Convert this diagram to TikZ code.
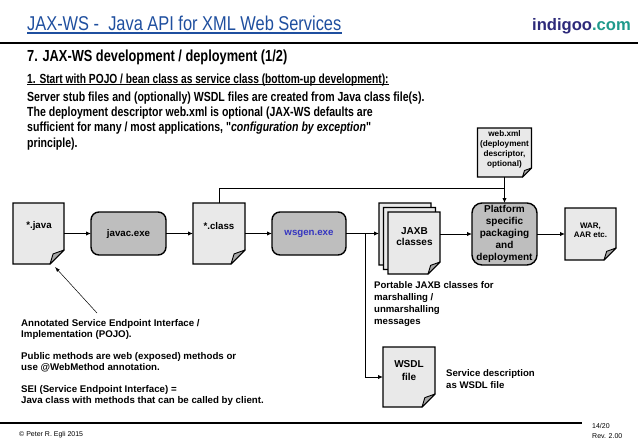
\documentclass[tikz,border=0pt]{standalone}
\usepackage{fontspec}
\setmainfont{Liberation Sans}
\newfontfamily\condfont{Liberation Sans}[FakeStretch=0.80]
\newfontfamily\subfont{Liberation Sans}[FakeStretch=0.775]
\newfontfamily\titlefont{Liberation Sans}[FakeStretch=0.82]
\usetikzlibrary{arrows.meta}
\definecolor{docfill}{HTML}{E9E9E9}
\definecolor{boxfill}{HTML}{BEBEBE}
\definecolor{flapfill}{HTML}{A8A8A8}
\definecolor{titleblue}{HTML}{1F4F9F}
\definecolor{wsblue}{HTML}{3535C0}
\definecolor{logoindigo}{HTML}{2D2A7A}
\definecolor{logoteal}{HTML}{1F9A8C}
\newcommand\docoutline[2]{%
  \draw[docline] (#1.north west) -- (#1.north east) -- ([yshift=#2]#1.south east)
    -- ([xshift=-#2]#1.south east) -- (#1.south west) -- cycle;
  \draw[flapline] ([xshift=-#2]#1.south east) -- ([xshift=-0.78*#2,yshift=0.72*#2]#1.south east)
    -- ([yshift=#2]#1.south east) -- cycle;}
\begin{document}
\begin{tikzpicture}[x=1pt,y=-1pt,
  docline/.style={draw=black, line width=1.4pt, fill=docfill, line join=miter},
  flapline/.style={draw=black, line width=0.9pt, fill=flapfill, line join=round},
  holder/.style={inner sep=0pt, outer sep=0pt},
  procbox/.style={draw=black, line width=1.4pt, fill=boxfill, rounded corners=8pt, inner sep=0pt, outer sep=0pt, align=center, font=\bfseries\fontsize{9.7}{11}\selectfont},
  dtext/.style={inner sep=0pt, align=center, font=\bfseries\fontsize{9.7}{11}\selectfont},
  conn/.style={line width=1pt, -{Latex[length=5pt,width=4.5pt]}},
  plainline/.style={line width=1pt},
  note/.style={inner sep=0pt, anchor=north west, align=left, font=\bfseries\fontsize{9.6}{12}\selectfont},
  foot/.style={inner sep=0pt, anchor=base west, font=\fontsize{7}{8}\selectfont}]
\useasboundingbox (0,0) rectangle (638,442);
\fill[white] (0,0) rectangle (638,442);

% header
\node[anchor=base west, inner sep=0pt, text=titleblue, font=\titlefont\fontsize{20}{24}\selectfont] (title) at (27,30) {JAX-WS -\ \ Java API for XML Web Services};
\draw[titleblue, line width=1.6pt] ([yshift=-2.8pt]title.base west) -- ([yshift=-2.8pt]title.base east);
\node[anchor=base east, inner sep=0pt, font=\bfseries\fontsize{16.6}{18}\selectfont] (logo) at (631,30) {\textcolor{logoindigo}{indigoo}\textcolor{logoteal}{.com}};
\draw[line width=1.2pt] (0,43) -- (638,43);

\node[anchor=base west, inner sep=0pt, font=\condfont\bfseries\fontsize{16}{19}\selectfont] (head) at (27,61) {7. JAX-WS development / deployment (1/2)};
\node[anchor=base west, inner sep=0pt, font=\subfont\bfseries\fontsize{13.2}{15.3}\selectfont] (sub) at (27,83) {1. Start with POJO / bean class as service class (bottom-up development):};
\draw[line width=0.9pt] ([yshift=-1.8pt]sub.base west) -- ([yshift=-1.8pt]sub.base east);
\node[anchor=north west, inner sep=0pt, align=left, font=\condfont\bfseries\fontsize{13.2}{15.3}\selectfont] (para) at (27,91.4) {Server stub files and (optionally) WSDL files are created from Java class file(s).\\
The deployment descriptor web.xml is optional (JAX-WS defaults are\\
sufficient for many / most applications, "\textit{configuration by exception}"\\
principle).};

% shape holders
\node[holder, minimum width=51pt, minimum height=61pt] (java) at (38.5,233.5) {};
\node[holder, minimum width=52pt, minimum height=61pt] (class) at (219,233.5) {};
\node[holder, minimum width=52pt, minimum height=62pt] (jaxbA) at (405,234) {};
\node[holder, minimum width=52pt, minimum height=62pt] (jaxbB) at (409.5,238.5) {};
\node[holder, minimum width=52pt, minimum height=62pt] (jaxb) at (414,243) {};
\node[holder, minimum width=51pt, minimum height=52pt] (war) at (590.5,234) {};
\node[holder, minimum width=54pt, minimum height=49pt] (webxml) at (504.5,152.5) {};
\node[holder, minimum width=52pt, minimum height=60pt] (wsdl) at (409,377) {};

\docoutline{java}{14pt}
\docoutline{class}{14pt}
\docoutline{jaxbA}{12pt}
\docoutline{jaxbB}{12pt}
\docoutline{jaxb}{12pt}
\docoutline{war}{12pt}
\docoutline{webxml}{9pt}
\docoutline{wsdl}{13pt}

% texts on documents
\node[dtext] (javaT) at (39,226) {*.java};
\node[dtext] (classT) at (219,226) {*.class};
\node[dtext, font=\bfseries\fontsize{10}{11}\selectfont] (jaxbT) at (414.5,237) {JAXB\\classes};
\node[dtext, font=\bfseries\fontsize{8}{9}\selectfont] (warT) at (590.5,230.5) {WAR,\\AAR etc.};
\node[dtext, font=\bfseries\fontsize{8.2}{9.8}\selectfont] (webT) at (504.5,149.5) {web.xml\\(deployment\\descriptor,\\optional)};
\node[dtext, font=\bfseries\fontsize{10}{13}\selectfont] (wsdlT) at (409,370.5) {WSDL\\file};

% process boxes
\node[procbox, minimum width=75pt, minimum height=43pt] (javac) at (128.5,233.5) {javac.exe};
\node[procbox, minimum width=74pt, minimum height=43pt, text=wsblue] (wsgen) at (309,233.5) {wsgen.exe};
\node[procbox, minimum width=65pt, minimum height=62pt, rounded corners=10pt, font=\bfseries\fontsize{10}{11.8}\selectfont] (plat) at (504.5,234) {Platform\\specific\\packaging\\and\\deployment};

% connectors
\coordinate (br) at (365,233.5);
\coordinate (join) at (504.5,188);
\draw[conn] (java.east) -- (javac.west);
\draw[conn] (javac.east) -- (class.west);
\draw[conn] (class.east) -- (wsgen.west);
\draw[conn] (wsgen.east) -- (jaxbA.west |- wsgen.east);
\draw[conn] (br) |- (wsdl.west);
\draw[conn] (jaxb.east |- plat.west) -- (plat.west);
\draw[conn] (plat.east) -- (war.west);
\draw[conn] (webxml.south) -- (plat.north);
\draw[plainline] (class.north) |- (join);

% notes
\node[note] (jaxbnote) at (374,281.3) {Portable JAXB classes for\\marshalling /\\unmarshalling\\messages};
\node[note] (wsdlnote) at (446,369.3) {Service description\\as WSDL file};
\node[note, font=\bfseries\fontsize{9.7}{11}\selectfont] (ann) at (21,319.6) {Annotated Service Endpoint Interface /\\
Implementation (POJO).\\[11pt]
Public methods are web (exposed) methods or\\
use @WebMethod annotation.\\[11pt]
SEI (Service Endpoint Interface) =\\
Java class with methods that can be called by client.};
\coordinate (annfrom) at (97,313);
\coordinate (annto) at (55,267);
\draw[line width=0.5pt, -{Latex[length=5pt,width=3.5pt]}] (annfrom) -- (annto);

% footer
\draw[line width=1.2pt] (0,423) -- (582,423);
\node[foot] (copy) at (19,436) {\textcopyright{} Peter R. Egli 2015};
\node[foot] (page) at (592,428) {14/20};
\node[foot] (rev) at (592,438) {Rev. 2.00};
\end{tikzpicture}
\end{document}
